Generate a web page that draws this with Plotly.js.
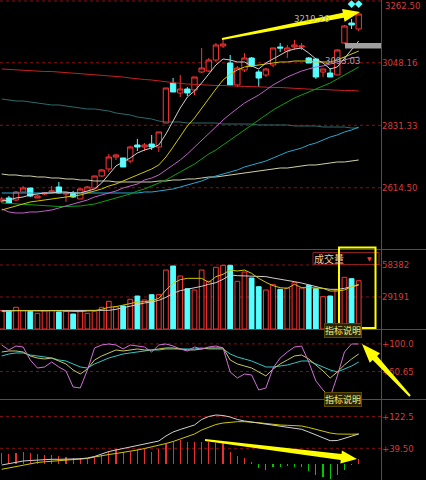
<!DOCTYPE html>
<html><head><meta charset="utf-8">
<script src="https://cdn.plot.ly/plotly-3.0.1.min.js"></script>
<style>html,body{margin:0;padding:0;background:#000;}#chart{width:426px;height:480px;}</style>
</head><body><div id="chart"></div>
<script>
// ---------------- data ----------------
const openP  = [2568.5,2579.0,2572.0,2599.8,2613.6,2579.0,2592.8,2599.8,2617.1,2592.8,2596.3,2575.5,2599.8,2613.6,2655.3,2679.6,2721.2,2717.8,2707.3,2762.9,2755.9,2766.3,2755.9,2839.2,2978.0,2943.3,2957.2,2953.7,3016.2,3019.6,3057.8,3106.4,3047.4,2971.1,3023.1,3064.7,3016.2,3005.8,3040.5,3102.9,3089.0,3102.9,3102.9,3064.7,3061.3,3016.2,3012.7,3005.8,3116.8,3186.2,3165.4];
const highP  = [2582.4,2585.9,2603.2,2620.6,2613.6,2589.4,2599.8,2620.6,2634.5,2599.8,2603.2,2613.6,2620.6,2655.3,2679.6,2731.6,2731.6,2717.8,2759.4,2783.7,2769.8,2797.6,2808.0,2960.6,2995.3,3005.8,2964.1,2998.8,3099.4,3064.7,3116.8,3134.1,3075.2,3037.0,3082.1,3068.2,3023.1,3030.0,3099.4,3116.8,3109.9,3127.2,3116.8,3068.2,3064.7,3026.6,3030.0,3096.0,3179.3,3200.1,3219.26];
const lowP   = [2561.6,2558.1,2568.5,2599.8,2582.4,2579.0,2589.4,2596.3,2592.8,2565.1,2579.0,2575.5,2596.3,2613.6,2651.8,2669.2,2710.8,2686.5,2700.4,2742.0,2742.0,2745.5,2738.6,2839.2,2946.8,2929.4,2932.9,2936.4,3012.7,3016.2,3050.9,3099.4,2971.1,2964.1,3016.2,3033.5,2964.1,2998.8,3033.5,3085.6,3064.7,3092.5,3092.5,3047.4,2991.9,2998.8,2998.8,3005.8,3113.3,3165.4,3158.4];
const closeP = [2575.5,2561.6,2599.8,2613.6,2585.9,2585.9,2596.3,2603.2,2596.3,2596.3,2582.4,2610.2,2617.1,2655.3,2676.1,2721.2,2728.2,2686.5,2755.9,2755.9,2762.9,2755.9,2808.0,2960.6,2946.8,2957.2,2943.3,2998.8,3030.0,3057.8,3109.9,3113.3,2971.1,3030.0,3064.7,3037.0,2995.3,3026.6,3099.4,3099.4,3099.4,3109.9,3106.4,3047.4,2998.8,3026.6,2998.8,3092.5,3175.8,3179.3,3217.4];

const ma5   = [2568.5,2572.0,2579.0,2582.4,2589.4,2592.8,2596.3,2596.3,2599.8,2599.8,2596.3,2596.3,2603.2,2610.2,2631.0,2662.2,2690.0,2703.9,2717.7,2735.1,2745.5,2752.4,2762.9,2801.0,2846.1,2891.2,2929.4,2950.2,2978.0,3009.2,3040.5,3061.3,3057.8,3050.9,3050.9,3037.0,3026.6,3047.4,3061.3,3075.2,3089.0,3096.0,3099.4,3082.1,3061.3,3047.4,3026.6,3033.5,3064.7,3096.0,3123.7];
const ma10  = [2537.3,2544.2,2551.2,2558.1,2565.1,2568.5,2572.0,2575.5,2579.0,2582.4,2585.9,2589.4,2596.3,2603.2,2610.2,2620.6,2627.5,2637.9,2648.3,2658.8,2669.2,2679.6,2693.5,2721.2,2755.9,2794.1,2828.8,2856.5,2891.2,2925.9,2957.2,2988.4,3009.2,3023.1,3033.5,3037.0,3040.5,3043.9,3047.4,3050.9,3050.9,3054.3,3054.3,3054.3,3050.9,3050.9,3050.9,3057.8,3068.2,3078.6,3089.0];
const ma20  = [2540.8,2530.4,2526.9,2526.9,2530.4,2530.4,2533.8,2537.3,2544.2,2551.2,2558.1,2565.1,2572.0,2582.4,2589.4,2596.3,2603.2,2613.6,2620.6,2627.5,2641.4,2648.3,2658.8,2676.1,2693.5,2710.8,2731.6,2755.9,2780.2,2804.5,2825.3,2849.6,2870.4,2891.2,2908.6,2922.5,2936.4,2953.7,2971.1,2984.9,2998.8,3009.2,3019.6,3026.6,3033.5,3037.0,3043.9,3050.9,3057.8,3064.7,3068.2];
const ma30  = [2561.6,2559.9,2558.1,2556.4,2554.7,2552.9,2551.2,2551.2,2549.5,2549.5,2549.5,2551.2,2554.7,2558.1,2565.1,2572.0,2579.0,2585.9,2592.8,2603.2,2610.2,2620.6,2631.0,2641.4,2655.3,2669.2,2683.0,2696.9,2714.3,2731.6,2745.5,2762.9,2780.2,2797.6,2814.9,2832.3,2849.6,2866.9,2884.3,2898.2,2912.1,2925.9,2936.4,2946.8,2957.2,2967.6,2978.0,2991.9,3005.8,3019.6,3033.5];
const ma60  = [2596.3,2596.3,2596.3,2596.3,2596.3,2596.3,2596.3,2596.3,2596.3,2596.3,2596.3,2596.3,2596.3,2596.3,2596.3,2596.3,2596.3,2596.3,2596.3,2596.3,2599.8,2599.8,2603.2,2606.7,2610.2,2617.1,2624.1,2631.0,2637.9,2648.3,2655.3,2662.2,2669.2,2676.1,2686.5,2693.5,2700.4,2707.3,2717.7,2728.2,2738.6,2745.5,2752.4,2762.9,2769.8,2780.2,2790.6,2797.6,2808.0,2814.9,2825.3];
const ma120 = [2662.2,2658.8,2658.8,2655.3,2655.3,2651.8,2651.8,2648.3,2648.3,2644.9,2644.9,2641.4,2641.4,2637.9,2637.9,2637.9,2634.5,2634.5,2634.5,2634.5,2634.5,2634.5,2637.9,2637.9,2641.4,2641.4,2644.9,2644.9,2648.3,2651.8,2651.8,2655.3,2658.8,2662.2,2665.7,2669.2,2672.6,2676.1,2679.6,2683.0,2683.0,2686.5,2690.0,2693.5,2693.5,2696.9,2700.4,2703.9,2703.9,2707.3,2710.8];
const ma250 = [3026.6,3024.8,3023.1,3021.4,3019.6,3019.6,3017.9,3017.9,3016.2,3014.4,3012.7,3011.0,3009.2,3007.5,3005.8,3004.0,3000.5,2998.8,2995.3,2991.9,2990.1,2988.4,2984.9,2981.5,2978.0,2976.3,2974.5,2972.8,2971.1,2971.1,2969.3,2969.3,2967.6,2967.6,2965.8,2965.8,2964.1,2964.1,2962.4,2962.4,2960.6,2958.9,2957.2,2957.2,2955.4,2955.4,2953.7,2953.7,2952.0,2952.0,2950.2];
const maLong = [2922.5,2919.0,2915.5,2915.5,2912.1,2908.6,2905.1,2901.7,2901.7,2898.2,2894.7,2891.2,2887.8,2887.8,2884.3,2880.8,2873.9,2870.4,2866.9,2860.0,2856.5,2853.1,2846.1,2842.7,2842.7,2842.7,2839.2,2839.2,2839.2,2839.2,2839.2,2835.7,2835.7,2835.7,2835.7,2835.7,2832.3,2832.3,2832.3,2832.3,2832.3,2828.8,2828.8,2828.8,2828.8,2825.3,2825.3,2825.3,2825.3,2821.8,2821.8];
const signalX = [49, 50];
const signalY = [3252, 3252];

const volume = [16690,16690,19800,16690,16150,14320,16690,16690,15500,16150,13680,16150,14320,16150,19800,25270,20340,20980,27090,30100,26450,31290,31290,53820,57470,48350,36760,35580,53820,43510,56280,58110,58110,43510,52000,46520,38590,35580,40410,36210,37400,42230,37400,39860,36760,29460,30100,35580,47160,45880,44060];
const volMA5  = [15811,16420,16723,16723,16420,16115,16420,16723,16420,15811,16115,15811,16420,16723,17938,19765,20372,21893,23717,24629,24933,25845,27977,35576,41658,45000,46220,46220,46220,42568,47737,49868,53820,52908,53820,50781,46220,42568,39526,37703,37097,40746,37703,37703,37703,37097,34664,34664,35576,38616,40746];
const volMA10 = [16723,16723,16723,16723,16723,16723,16723,16723,16723,16723,16723,16723,16420,16420,16723,17026,17938,19461,21284,22805,23717,24629,26149,28887,32537,34967,36185,37400,38921,40746,42264,45308,49259,48648,48347,48347,48041,47737,46522,45610,44392,43175,41961,40137,38616,37097,36185,36185,37097,38616,40137];

const kdjK = [85.5,87.3,87.3,85.5,78.4,74.8,73.1,74.8,69.5,64.2,53.5,46.3,55.2,71.3,78.4,83.8,89.1,87.3,89.1,90.9,89.1,89.1,90.9,92.7,92.7,90.9,89.1,89.1,90.9,92.7,92.7,92.7,71.3,64.2,60.6,57.0,49.9,42.8,55.2,64.2,71.3,78.4,80.2,73.1,62.4,51.7,39.2,49.9,62.4,73.1,82.0];
const kdjD = [78.4,82.0,83.8,83.8,80.2,78.4,76.6,74.8,71.3,69.5,64.2,58.8,57.0,64.2,69.5,74.8,78.4,82.0,83.8,85.5,87.3,89.1,89.1,90.9,90.9,90.9,90.9,90.9,92.7,90.9,90.9,90.9,82.0,76.6,73.1,69.5,64.2,58.8,58.8,60.6,62.4,65.9,69.5,69.5,64.2,58.8,53.5,49.9,55.2,60.6,67.7];
const kdjJ = [98.0,89.1,96.2,94.4,71.3,57.0,58.8,67.7,58.8,51.7,23.2,21.4,53.5,92.7,98.0,99.8,98.0,90.9,98.0,96.2,94.4,85.5,98.0,99.8,96.2,90.9,87.3,94.4,90.9,94.4,96.2,92.7,49.9,39.2,46.3,44.6,17.8,21.4,57.0,74.8,85.5,94.4,96.2,67.7,33.9,17.8,5.3,42.8,85.5,99.8,99.8];

const macdDIF  = [-3.9,0,3.9,6.5,7.8,9.1,9.9,10.9,10.9,10.9,11.7,12.2,14.3,18.2,24.7,31.2,35.1,39,42.9,46.8,50.7,54.6,58.5,71.5,81.9,88.4,93.6,100.1,114.4,122.2,126.1,124.8,120.9,114.4,110.5,107.9,105.3,102.7,100.1,97.5,94.9,92.3,88.9,81.9,74.1,65,59.3,59.8,65,71.5,76.7];
const macdDEA  = [-15.1,-11.7,-7.8,-3.9,0,2.6,4.4,5.7,6.5,7.8,9.1,10.4,13,16.9,20.8,23.4,26,28.6,31.2,35.1,39,42.9,46.8,52,57.2,63.7,70.2,76.7,87.1,94.9,101.4,105.3,107.9,108.7,108.7,107.9,106.1,104,101.4,100.1,99.3,98.8,97.5,93.6,88.9,84.5,79.3,76.7,75.9,76.2,76.7];
const macdHist = [26.5,24.7,28.1,30.7,28.1,24.7,22.1,22.1,19.5,16.1,13.5,13.5,10.9,19.5,22.1,30.7,36.9,30.7,30.7,36.9,36.9,30.7,36.9,49.9,56.7,61.1,56.7,56.7,56.7,56.7,54.1,52.5,30.7,19.5,13.5,4.7,-12.5,-16.9,-8.3,-8.3,-6.5,-8.3,-8.3,-18.7,-29.9,-34.3,-41.1,-29.9,-16.9,-3.9,10.9];

const priceTicks = [3262.50, 3048.16, 2831.33, 2614.50];
const priceTickText = ['3262.50','3048.16','2831.33','2614.50'];
const volTicks = [58382, 29191];
const volTickText = ['58382','29191'];
const kdjTicks = [100.0, 50.65];
const kdjTickText = ['+100.0','+50.65'];
const macdTicks = [122.5, 39.50];
const macdTickText = ['+122.5','+39.50'];

// ---------------- drawing ----------------
const xIdx = closeP.map((_, i) => i);
const isUp = closeP.map((c, i) => c >= openP[i]);
const RED = '#ff3434', CYAN = '#54ffff', AXRED = '#c41e1e', GRID = '#8a1010';
const NARROW = 'Liberation Sans Narrow, DejaVu Sans Condensed, Liberation Sans, sans-serif';
const TICKFONT = {family: NARROW, size: 9.5, color: '#d43c3c'};

const PW = 381, H = 480;
const px = x => x / PW;
const py = y => 1 - y / H;

function line(y, color, yaxis, width) {
  return {type: 'scatter', mode: 'lines', x: xIdx, y: y, xaxis: 'x', yaxis: yaxis,
          line: {color: color, width: width || 1}, hoverinfo: 'skip', showlegend: false};
}

const traces = [
  {type: 'candlestick', x: xIdx, open: openP, high: highP, low: lowP, close: closeP,
   xaxis: 'x', yaxis: 'y', whiskerwidth: 0,
   increasing: {line: {color: RED, width: 1}, fillcolor: '#000000'},
   decreasing: {line: {color: CYAN, width: 1}, fillcolor: CYAN},
   hoverinfo: 'skip', showlegend: false},
  line(maLong, '#2e6a6a', 'y'),
  line(ma250, '#c42020', 'y'),
  line(ma120, '#d0d0a8', 'y'),
  line(ma60, '#28a8d0', 'y'),
  line(ma30, '#10a010', 'y'),
  line(ma20, '#c060c8', 'y'),
  line(ma10, '#d0c800', 'y'),
  line(ma5, '#d0d0d0', 'y'),
  {type: 'scatter', mode: 'markers', x: signalX, y: signalY, xaxis: 'x', yaxis: 'y',
   marker: {symbol: 'diamond', size: 6, color: CYAN}, hoverinfo: 'skip', showlegend: false},
  {type: 'bar', x: xIdx, y: volume, xaxis: 'x', yaxis: 'y2', width: 0.66,
   marker: {color: isUp.map(u => u ? '#000000' : CYAN),
            line: {color: isUp.map(u => u ? RED : CYAN), width: 1}},
   hoverinfo: 'skip', showlegend: false},
  line(volMA10, '#d0d0d0', 'y2'),
  line(volMA5, '#d0c800', 'y2'),
  line(kdjD, '#30c8c8', 'y3'),
  line(kdjK, '#c8c860', 'y3'),
  line(kdjJ, '#d070d8', 'y3'),
  {type: 'bar', x: xIdx, y: macdHist, xaxis: 'x', yaxis: 'y4', width: 0.16,
   marker: {color: macdHist.map(v => v >= 0 ? '#e83030' : '#00c800'), line: {width: 0}},
   hoverinfo: 'skip', showlegend: false},
  line(macdDEA, '#d0c800', 'y4'),
  line(macdDIF, '#d0d0d0', 'y4')
];

function yax(domain, range, tv, tt) {
  return {domain: domain, range: range, side: 'right', anchor: 'x', tickvals: tv, ticktext: tt,
          showgrid: false, zeroline: false, showline: false, ticks: '', tickfont: TICKFONT,
          ticklabeloverflow: 'allow', fixedrange: true};
}

function arrowPath(x0, y0, x1, y1, w0, w1, hw, hl) {
  const dx = x1 - x0, dy = y1 - y0, L = Math.hypot(dx, dy);
  const ux = dx / L, uy = dy / L, nx = -uy, ny = ux;
  const bx = x1 - ux * hl, by = y1 - uy * hl;
  const pts = [[x0 + nx * w0, y0 + ny * w0], [bx + nx * w1, by + ny * w1], [bx + nx * hw, by + ny * hw],
               [x1, y1], [bx - nx * hw, by - ny * hw], [bx - nx * w1, by - ny * w1], [x0 - nx * w0, y0 - ny * w0]];
  return 'M' + pts.map(p => px(p[0]).toFixed(5) + ',' + py(p[1]).toFixed(5)).join(' L') + ' Z';
}

const shapes = [];
function grid(vals, yref) {
  vals.forEach(v => shapes.push({type: 'line', xref: 'paper', yref: yref, x0: 0, x1: 1, y0: v, y1: v,
    line: {color: GRID, width: 1, dash: 'dot'}, layer: 'below'}));
}
grid(priceTicks, 'y'); grid(volTicks, 'y2'); grid(kdjTicks, 'y3'); grid(macdTicks, 'y4');
[249.5, 329.5, 399.5].forEach(y => shapes.push({type: 'line', xref: 'paper', yref: 'paper',
  x0: 0, x1: 426 / PW, y0: py(y), y1: py(y), line: {color: AXRED, width: 1}}));
shapes.push({type: 'line', xref: 'paper', yref: 'paper', x0: px(381.5), x1: px(381.5), y0: 0, y1: 1,
  line: {color: AXRED, width: 1}});
// grey price bar
shapes.push({type: 'rect', xref: 'paper', yref: 'paper', x0: px(345), x1: px(381), y0: py(48.5), y1: py(43),
  fillcolor: '#a0a0a0', line: {width: 0}});
// 成交量 box
shapes.push({type: 'rect', xref: 'paper', yref: 'paper', x0: px(313), x1: px(379), y0: py(264.5), y1: py(252.5),
  fillcolor: '#000000', line: {color: '#8a2020', width: 1}});
// yellow highlight rectangle in the volume panel
shapes.push({type: 'rect', xref: 'paper', yref: 'paper', x0: px(339), x1: px(375.5), y0: py(328), y1: py(247.5),
  line: {color: '#ffff00', width: 2}});
// yellow arrows
shapes.push({type: 'path', xref: 'paper', yref: 'paper', path: arrowPath(222, 39, 360, 12, 1, 2.5, 6.5, 17),
  fillcolor: '#ffff00', line: {width: 0}});
shapes.push({type: 'path', xref: 'paper', yref: 'paper', path: arrowPath(410, 396, 362, 344, 1, 3, 7, 19),
  fillcolor: '#ffff00', line: {width: 0}});
shapes.push({type: 'path', xref: 'paper', yref: 'paper', path: arrowPath(205, 440, 357, 459, 1, 3, 6.5, 16),
  fillcolor: '#ffff00', line: {width: 0}});

const CJK = 'Noto Sans CJK SC, sans-serif';
const annotations = [
  {text: priceTickText[0], x: px(383), y: py(5.5), xref: 'paper', yref: 'paper', xanchor: 'left', yanchor: 'middle',
   showarrow: false, font: TICKFONT},
  {text: '3219.26', x: px(331), y: py(11.5), xref: 'paper', yref: 'paper', showarrow: false,
   font: {family: NARROW, size: 9.5, color: '#b8b8b8'}},
  {text: '3093.03', x: px(362), y: py(52.5), xref: 'paper', yref: 'paper', showarrow: false,
   font: {family: NARROW, size: 9.5, color: '#a8a8a8'}},
  {text: '成交量', x: px(345.5), y: py(258.5), xref: 'paper', yref: 'paper', showarrow: false,
   font: {family: CJK, size: 10, color: '#f0d0a0'}},
  {text: '▼', x: px(373.5), y: py(258), xref: 'paper', yref: 'paper', showarrow: false,
   font: {family: 'DejaVu Sans', size: 6, color: RED}},
  {text: '指标说明', x: px(361.5), y: py(337.5), xref: 'paper', yref: 'paper', showarrow: false,
   bgcolor: '#2a2200', bordercolor: '#5a4a00', borderwidth: 1, borderpad: 0,
   font: {family: CJK, size: 9, color: '#f0f080'}},
  {text: '指标说明', x: px(361.5), y: py(407), xref: 'paper', yref: 'paper', showarrow: false,
   bgcolor: '#2a2200', bordercolor: '#5a4a00', borderwidth: 1, borderpad: 0,
   font: {family: CJK, size: 9, color: '#f0f080'}}
];

const layout = {
  width: 426, height: 480,
  margin: {l: 0, r: 45, t: 0, b: 0, pad: 0},
  paper_bgcolor: '#000000', plot_bgcolor: '#000000',
  showlegend: false, boxgap: 0.25, boxgroupgap: 0, bargap: 0,
  xaxis: {domain: [0, 1], range: [-0.24, 53.12], showgrid: false, zeroline: false, showline: false,
          showticklabels: false, ticks: '', rangeslider: {visible: false}, fixedrange: true},
  yaxis:  yax([1 - 248 / H, 1], [2405.4, 3266], priceTicks.slice(1), priceTickText.slice(1)),
  yaxis2: yax([1 - 329 / H, 1 - 250 / H], [0, 72064], volTicks, volTickText),
  yaxis3: yax([1 - 400 / H, 1 - 330 / H], [0, 124.7], kdjTicks, kdjTickText),
  yaxis4: yax([0, 1 - 400 / H], [-42.9, 165.1], macdTicks, macdTickText),
  shapes: shapes,
  annotations: annotations
};

Plotly.newPlot('chart', traces, layout, {staticPlot: true, displayModeBar: false});
</script>
</body></html>
